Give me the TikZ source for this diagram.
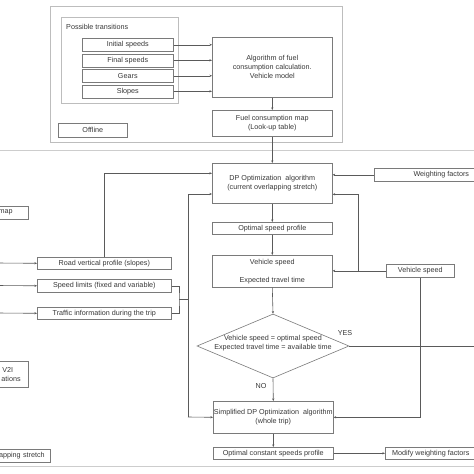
\documentclass[tikz,border=0pt]{standalone}
\usepackage{fontspec}
\setmainfont{Liberation Sans}
\usetikzlibrary{arrows.meta,shapes.geometric}
\definecolor{txt}{HTML}{383838}
\definecolor{boxc}{HTML}{7A7A7A}
\definecolor{linec}{HTML}{5A5A5A}
\definecolor{panelc}{HTML}{BDBDBD}
\definecolor{sepc}{HTML}{CDCDCD}
\begin{document}
\begin{tikzpicture}[x=1pt,y=-1pt, font=\fontsize{7.2}{9}\selectfont, text=txt,
  box/.style={draw=boxc, line width=0.6pt, inner sep=0pt, align=center, anchor=north west},
  lbox/.style={draw=boxc, line width=0.6pt, inner sep=0pt, anchor=north east, text width=90pt, align=right},
  conn/.style={draw=linec, line width=0.6pt},
  arr/.style={conn, -{Stealth[length=2.6pt,width=2.2pt]}},
  panel/.style={draw=panelc, line width=0.7pt},
  sep/.style={draw=sepc, line width=0.8pt},
  lbl/.style={inner sep=0pt}]
\useasboundingbox (0,0) rectangle (474,474);
\clip (0,0) rectangle (474,474);
\fill[white] (0,0) rectangle (474,474);
% separators
\draw[sep] (-2,150) -- (476,150);
\draw[sep] (-2,466) -- (476,466);
% offline panel
\draw[panel] (50,6) rectangle (342,142);
\draw[panel] (61,17) rectangle (178,103);
\node[lbl, anchor=west] (pt) at (66,27) {Possible transitions};
\node[box, minimum width=91, minimum height=13] (init) at (82,38) {Initial speeds};
\node[box, minimum width=91, minimum height=13] (final) at (82,53.5) {Final speeds};
\node[box, minimum width=91, minimum height=13] (gears) at (82,69) {Gears};
\node[box, minimum width=91, minimum height=13] (slopes) at (82,84.5) {Slopes};
\node[box, minimum width=69, minimum height=14] (offline) at (58,123) {Offline};
\node[box, minimum width=120, minimum height=60] (alg) at (212,37) {Algorithm of fuel\\consumption calculation.\\Vehicle model};
\node[box, minimum width=120, minimum height=26] (fuel) at (212,110) {Fuel consumption map\\(Look-up table)};
\foreach \n in {init,final,gears,slopes} \draw[arr] (\n.east) -- (\n.east -| alg.west);
\draw[arr] (alg.south) -- (fuel.north);
% main flow
\node[box, minimum width=120, minimum height=40] (dp) at (212,163) {DP Optimization~ algorithm\\(current overlapping stretch)};
\node[box, minimum width=136, minimum height=13] (weight) at (374,168) {\hspace*{-2pt}Weighting factors};
\node[box, minimum width=120, minimum height=12] (osp) at (212,222) {Optimal speed profile};
\node[box, minimum width=120, minimum height=32] (vs) at (212,255) {Vehicle speed\\[9pt]Expected travel time};
\node[box, minimum width=68, minimum height=13] (vsr) at (386,264) {Vehicle speed};
\node[draw=boxc, line width=0.6pt, diamond, inner sep=0pt, minimum width=152, minimum height=64] (dia) at (273,346) {};
\node[lbl, align=center] (diat) at (273,343.5) {Vehicle speed = optimal speed\\Expected travel time = available time};
\node[box, minimum width=120, minimum height=32] (simp) at (213,401) {Simplified DP Optimization~ algorithm\\(whole trip)};
\node[box, minimum width=120, minimum height=12] (ocsp) at (213,447) {Optimal constant speeds profile};
\node[box, minimum width=91, minimum height=12] (modify) at (385,447) {Modify weighting factors};
\node[lbl] (yes) at (345,333) {YES};
\node[lbl] (no) at (261,386) {NO};
% left side
\node[lbox, minimum height=13] (mapbox) at (29,206) {map\rule{16pt}{0pt}};
\node[lbox, minimum height=26] (v2i) at (29,361) {V2I\rule{15.5pt}{0pt}\\ations\rule{8pt}{0pt}};
\node[lbox, minimum height=13] (ovl) at (51,449) {apping stretch\rule{6pt}{0pt}};
\node[box, minimum width=134, minimum height=12] (road) at (37,257) {Road vertical profile (slopes)};
\node[box, minimum width=134, minimum height=13] (speed) at (37,279) {Speed limits (fixed and variable)};
\node[box, minimum width=134, minimum height=12] (traffic) at (37,307) {Traffic information during the trip};
\coordinate (l1) at (-3,263);
\coordinate (l2) at (-3,285.5);
\coordinate (l3) at (-3,313);
\draw[arr] (l1) -- (road.west);
\draw[arr] (l2) -- (speed.west);
\draw[arr] (l3) -- (traffic.west);
% connectors
\draw[arr] (fuel.south) -- (dp.north);
\draw[arr] (weight.west) -- (weight.west -| dp.east);
\draw[arr] (road.north) |- ([yshift=10pt]dp.west);
\coordinate (bj) at (179,299);
\coordinate (bustop) at (188,194);
\coordinate (busbot) at (188,417);
\draw[conn] (speed.east) -| (bj) |- (traffic.east);
\draw[conn] (bj) -- (bj -| bustop);
\draw[conn] (bustop) -- (busbot);
\draw[arr] (bustop) -- (bustop -| dp.west);
\draw[arr] (busbot) -- (simp.west);
\draw[arr] (dp.south) -- (osp.north);
\draw[arr] (osp.south) -- (vs.north);
\draw[arr] (vs.south) -- (dia.north);
\coordinate (rj) at (358,271);
\draw[arr] (vsr.west) -- (vsr.west -| vs.east);
\draw[arr] (rj) |- ([yshift=-11pt]dp.east);
\draw[arr] (vsr.south) |- (simp.east);
\coordinate (yesend) at (480,346);
\draw[conn] (dia.east) -- (yesend);
\draw[arr] (dia.south) -- (simp.north);
\draw[arr] (simp.south) -- (ocsp.north);
\draw[arr] (ocsp.east) -- (modify.west);
\end{tikzpicture}
\end{document}
